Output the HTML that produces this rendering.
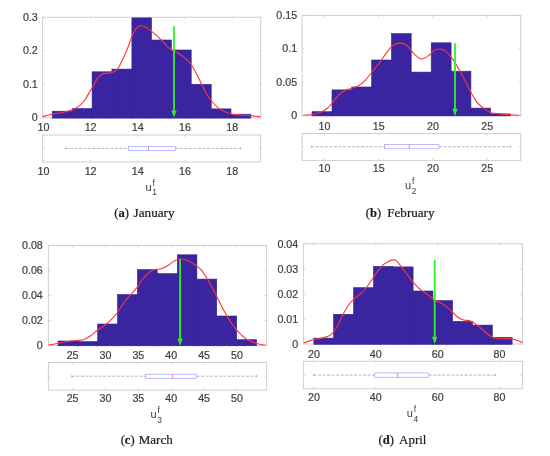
<!DOCTYPE html>
<html><head><meta charset="utf-8"><title>Histograms</title>
<style>
html,body{margin:0;padding:0;background:#fff;}
body{width:550px;height:456px;overflow:hidden;}
svg{display:block;}
.tk{font-family:"Liberation Sans",Arial,sans-serif;font-size:10.2px;fill:#3c3c3c;stroke:#4a4a4a;stroke-width:0.22px;}
.xl{font-family:"Liberation Sans",Arial,sans-serif;font-size:11px;fill:#3c3c3c;}
.xs{font-family:"Liberation Sans",Arial,sans-serif;font-size:8.5px;fill:#3c3c3c;}
.xs2{font-family:"Liberation Sans",Arial,sans-serif;font-size:8.4px;fill:#3c3c3c;}
.cap{font-family:"Liberation Serif","Times New Roman",serif;font-size:12.5px;fill:#1a1a1a;stroke:#1a1a1a;stroke-width:0.2px;}
</style></head>
<body>
<svg width="550" height="456" viewBox="0 0 550 456">
<rect width="550" height="456" fill="#fff"/>
<rect x="42.60" y="17.30" width="218.10" height="100.50" fill="none" stroke="#cfcfcf" stroke-width="1"/>
<line x1="43.40" y1="17.30" x2="43.40" y2="19.50" stroke="#cfcfcf" stroke-width="0.8"/>
<line x1="43.40" y1="117.80" x2="43.40" y2="115.60" stroke="#cfcfcf" stroke-width="0.8"/>
<line x1="90.60" y1="17.30" x2="90.60" y2="19.50" stroke="#cfcfcf" stroke-width="0.8"/>
<line x1="90.60" y1="117.80" x2="90.60" y2="115.60" stroke="#cfcfcf" stroke-width="0.8"/>
<line x1="137.80" y1="17.30" x2="137.80" y2="19.50" stroke="#cfcfcf" stroke-width="0.8"/>
<line x1="137.80" y1="117.80" x2="137.80" y2="115.60" stroke="#cfcfcf" stroke-width="0.8"/>
<line x1="185.00" y1="17.30" x2="185.00" y2="19.50" stroke="#cfcfcf" stroke-width="0.8"/>
<line x1="185.00" y1="117.80" x2="185.00" y2="115.60" stroke="#cfcfcf" stroke-width="0.8"/>
<line x1="232.20" y1="17.30" x2="232.20" y2="19.50" stroke="#cfcfcf" stroke-width="0.8"/>
<line x1="232.20" y1="117.80" x2="232.20" y2="115.60" stroke="#cfcfcf" stroke-width="0.8"/>
<rect x="52.20" y="111.20" width="20.00" height="6.90" fill="#3a24a0" stroke="#30208a" stroke-width="0.6"/>
<rect x="72.20" y="108.60" width="19.90" height="9.50" fill="#3a24a0" stroke="#30208a" stroke-width="0.6"/>
<rect x="92.10" y="71.80" width="19.80" height="46.30" fill="#3a24a0" stroke="#30208a" stroke-width="0.6"/>
<rect x="111.90" y="69.10" width="20.00" height="49.00" fill="#3a24a0" stroke="#30208a" stroke-width="0.6"/>
<rect x="131.90" y="17.90" width="19.60" height="100.20" fill="#3a24a0" stroke="#30208a" stroke-width="0.6"/>
<rect x="151.50" y="40.00" width="19.90" height="78.10" fill="#3a24a0" stroke="#30208a" stroke-width="0.6"/>
<rect x="171.40" y="50.00" width="19.80" height="68.10" fill="#3a24a0" stroke="#30208a" stroke-width="0.6"/>
<rect x="191.20" y="84.30" width="20.00" height="33.80" fill="#3a24a0" stroke="#30208a" stroke-width="0.6"/>
<rect x="211.20" y="108.90" width="19.80" height="9.20" fill="#3a24a0" stroke="#30208a" stroke-width="0.6"/>
<rect x="231.00" y="114.20" width="19.80" height="3.90" fill="#3a24a0" stroke="#30208a" stroke-width="0.6"/>
<path d="M42.60,116.60 C44.17,116.20 48.60,114.92 52.00,114.20 C55.40,113.48 59.62,113.03 63.00,112.30 C66.38,111.57 69.55,110.92 72.30,109.80 C75.05,108.68 77.42,107.23 79.50,105.60 C81.58,103.97 82.67,103.07 84.80,100.00 C86.93,96.93 90.18,90.80 92.30,87.20 C94.42,83.60 95.90,80.57 97.50,78.40 C99.10,76.23 100.43,75.07 101.90,74.20 C103.37,73.33 104.68,73.45 106.30,73.20 C107.92,72.95 109.85,73.30 111.60,72.70 C113.35,72.10 115.55,70.63 116.80,69.60 C118.05,68.57 117.93,68.60 119.10,66.50 C120.27,64.40 122.42,59.95 123.80,57.00 C125.18,54.05 126.22,51.75 127.40,48.80 C128.58,45.85 129.72,42.27 130.90,39.30 C132.08,36.33 133.32,33.07 134.50,31.00 C135.68,28.93 136.82,27.78 138.00,26.90 C139.18,26.02 140.22,25.60 141.60,25.70 C142.98,25.80 144.57,26.52 146.30,27.50 C148.03,28.48 150.30,30.28 152.00,31.60 C153.70,32.92 154.77,33.80 156.50,35.40 C158.23,37.00 160.45,39.20 162.40,41.20 C164.35,43.20 166.27,45.73 168.20,47.40 C170.13,49.07 172.07,50.05 174.00,51.20 C175.93,52.35 177.87,53.07 179.80,54.30 C181.73,55.53 183.70,56.90 185.60,58.60 C187.50,60.30 189.15,61.50 191.20,64.50 C193.25,67.50 195.57,72.10 197.90,76.60 C200.23,81.10 202.98,87.52 205.20,91.50 C207.42,95.48 208.80,97.60 211.20,100.50 C213.60,103.40 216.30,106.65 219.60,108.90 C222.90,111.15 227.37,112.98 231.00,114.00 C234.63,115.02 238.10,114.73 241.40,115.00 C244.70,115.27 247.58,115.28 250.80,115.60 C254.02,115.92 259.05,116.68 260.70,116.90" fill="none" stroke="#ff3535" stroke-width="1.1" stroke-linejoin="round"/>
<line x1="174.00" y1="26.20" x2="174.00" y2="112.00" stroke="#2ef02e" stroke-width="1.8"/>
<path d="M171.40,110.50 L176.60,110.50 L174.00,117.70 Z" fill="#2ef02e"/>
<line x1="42.60" y1="117.80" x2="44.80" y2="117.80" stroke="#cfcfcf" stroke-width="0.8"/>
<line x1="260.70" y1="117.80" x2="258.50" y2="117.80" stroke="#cfcfcf" stroke-width="0.8"/>
<text transform="translate(37.80,121.40) scale(1.050,1)" text-anchor="end" class="tk">0</text>
<line x1="42.60" y1="84.34" x2="44.80" y2="84.34" stroke="#cfcfcf" stroke-width="0.8"/>
<line x1="260.70" y1="84.34" x2="258.50" y2="84.34" stroke="#cfcfcf" stroke-width="0.8"/>
<text transform="translate(37.80,87.94) scale(1.050,1)" text-anchor="end" class="tk">0.1</text>
<line x1="42.60" y1="50.88" x2="44.80" y2="50.88" stroke="#cfcfcf" stroke-width="0.8"/>
<line x1="260.70" y1="50.88" x2="258.50" y2="50.88" stroke="#cfcfcf" stroke-width="0.8"/>
<text transform="translate(37.80,54.48) scale(1.050,1)" text-anchor="end" class="tk">0.2</text>
<line x1="42.60" y1="17.42" x2="44.80" y2="17.42" stroke="#cfcfcf" stroke-width="0.8"/>
<line x1="260.70" y1="17.42" x2="258.50" y2="17.42" stroke="#cfcfcf" stroke-width="0.8"/>
<text transform="translate(37.80,21.02) scale(1.050,1)" text-anchor="end" class="tk">0.3</text>
<text transform="translate(43.40,130.80) scale(1.050,1)" text-anchor="middle" class="tk">10</text>
<text transform="translate(90.60,130.80) scale(1.050,1)" text-anchor="middle" class="tk">12</text>
<text transform="translate(137.80,130.80) scale(1.050,1)" text-anchor="middle" class="tk">14</text>
<text transform="translate(185.00,130.80) scale(1.050,1)" text-anchor="middle" class="tk">16</text>
<text transform="translate(232.20,130.80) scale(1.050,1)" text-anchor="middle" class="tk">18</text>
<rect x="42.60" y="135.00" width="218.10" height="27.00" fill="none" stroke="#cfcfcf" stroke-width="1"/>
<line x1="43.40" y1="135.00" x2="43.40" y2="137.20" stroke="#cfcfcf" stroke-width="0.8"/>
<line x1="43.40" y1="162.00" x2="43.40" y2="159.80" stroke="#cfcfcf" stroke-width="0.8"/>
<text transform="translate(43.40,174.50) scale(1.050,1)" text-anchor="middle" class="tk">10</text>
<line x1="90.60" y1="135.00" x2="90.60" y2="137.20" stroke="#cfcfcf" stroke-width="0.8"/>
<line x1="90.60" y1="162.00" x2="90.60" y2="159.80" stroke="#cfcfcf" stroke-width="0.8"/>
<text transform="translate(90.60,174.50) scale(1.050,1)" text-anchor="middle" class="tk">12</text>
<line x1="137.80" y1="135.00" x2="137.80" y2="137.20" stroke="#cfcfcf" stroke-width="0.8"/>
<line x1="137.80" y1="162.00" x2="137.80" y2="159.80" stroke="#cfcfcf" stroke-width="0.8"/>
<text transform="translate(137.80,174.50) scale(1.050,1)" text-anchor="middle" class="tk">14</text>
<line x1="185.00" y1="135.00" x2="185.00" y2="137.20" stroke="#cfcfcf" stroke-width="0.8"/>
<line x1="185.00" y1="162.00" x2="185.00" y2="159.80" stroke="#cfcfcf" stroke-width="0.8"/>
<text transform="translate(185.00,174.50) scale(1.050,1)" text-anchor="middle" class="tk">16</text>
<line x1="232.20" y1="135.00" x2="232.20" y2="137.20" stroke="#cfcfcf" stroke-width="0.8"/>
<line x1="232.20" y1="162.00" x2="232.20" y2="159.80" stroke="#cfcfcf" stroke-width="0.8"/>
<text transform="translate(232.20,174.50) scale(1.050,1)" text-anchor="middle" class="tk">18</text>
<line x1="42.60" y1="148.40" x2="44.80" y2="148.40" stroke="#cfcfcf" stroke-width="0.8"/>
<line x1="260.70" y1="148.40" x2="258.50" y2="148.40" stroke="#cfcfcf" stroke-width="0.8"/>
<line x1="65.40" y1="148.40" x2="128.40" y2="148.40" stroke="#a4a4a4" stroke-width="0.8" stroke-dasharray="3,1.5"/>
<line x1="175.40" y1="148.40" x2="240.70" y2="148.40" stroke="#a4a4a4" stroke-width="0.8" stroke-dasharray="3,1.5"/>
<line x1="65.40" y1="147.40" x2="65.40" y2="149.40" stroke="#8a8a8a" stroke-width="0.7"/>
<line x1="240.70" y1="147.40" x2="240.70" y2="149.40" stroke="#8a8a8a" stroke-width="0.7"/>
<rect x="128.40" y="146.50" width="47.00" height="3.90" fill="none" stroke="#a9a9fb" stroke-width="0.8"/>
<line x1="148.40" y1="146.50" x2="148.40" y2="150.40" stroke="#f07a7a" stroke-width="0.9"/>
<text x="145.60" y="190.60" class="xl">u</text>
<text x="152.50" y="185.60" class="xs">f</text>
<text x="152.30" y="195.30" class="xs2">1</text>
<text x="114.30" y="216.70" class="cap">(<tspan font-weight="bold">a</tspan>)</text>
<text x="133.60" y="216.70" class="cap" textLength="41.0" lengthAdjust="spacingAndGlyphs">January</text>
<rect x="302.10" y="15.50" width="218.70" height="100.10" fill="none" stroke="#cfcfcf" stroke-width="1"/>
<line x1="324.50" y1="15.50" x2="324.50" y2="17.70" stroke="#cfcfcf" stroke-width="0.8"/>
<line x1="324.50" y1="115.60" x2="324.50" y2="113.40" stroke="#cfcfcf" stroke-width="0.8"/>
<line x1="378.75" y1="15.50" x2="378.75" y2="17.70" stroke="#cfcfcf" stroke-width="0.8"/>
<line x1="378.75" y1="115.60" x2="378.75" y2="113.40" stroke="#cfcfcf" stroke-width="0.8"/>
<line x1="433.00" y1="15.50" x2="433.00" y2="17.70" stroke="#cfcfcf" stroke-width="0.8"/>
<line x1="433.00" y1="115.60" x2="433.00" y2="113.40" stroke="#cfcfcf" stroke-width="0.8"/>
<line x1="487.25" y1="15.50" x2="487.25" y2="17.70" stroke="#cfcfcf" stroke-width="0.8"/>
<line x1="487.25" y1="115.60" x2="487.25" y2="113.40" stroke="#cfcfcf" stroke-width="0.8"/>
<rect x="312.00" y="111.70" width="20.00" height="4.20" fill="#3a24a0" stroke="#30208a" stroke-width="0.6"/>
<rect x="332.00" y="89.90" width="19.70" height="26.00" fill="#3a24a0" stroke="#30208a" stroke-width="0.6"/>
<rect x="351.70" y="87.00" width="20.00" height="28.90" fill="#3a24a0" stroke="#30208a" stroke-width="0.6"/>
<rect x="371.70" y="60.00" width="19.80" height="55.90" fill="#3a24a0" stroke="#30208a" stroke-width="0.6"/>
<rect x="391.50" y="33.60" width="19.70" height="82.30" fill="#3a24a0" stroke="#30208a" stroke-width="0.6"/>
<rect x="411.20" y="72.10" width="20.00" height="43.80" fill="#3a24a0" stroke="#30208a" stroke-width="0.6"/>
<rect x="431.20" y="42.80" width="19.90" height="73.10" fill="#3a24a0" stroke="#30208a" stroke-width="0.6"/>
<rect x="451.10" y="71.20" width="19.80" height="44.70" fill="#3a24a0" stroke="#30208a" stroke-width="0.6"/>
<rect x="470.90" y="108.10" width="19.60" height="7.80" fill="#3a24a0" stroke="#30208a" stroke-width="0.6"/>
<rect x="490.50" y="113.90" width="19.70" height="2.00" fill="#3a24a0" stroke="#30208a" stroke-width="0.6"/>
<path d="M302.10,115.50 C303.73,115.33 308.95,114.98 311.90,114.50 C314.85,114.02 317.17,113.68 319.80,112.60 C322.43,111.52 325.40,109.92 327.70,108.00 C330.00,106.08 331.63,103.40 333.60,101.10 C335.57,98.80 337.53,96.02 339.50,94.20 C341.47,92.38 343.35,91.18 345.40,90.20 C347.45,89.22 349.48,89.12 351.80,88.30 C354.12,87.48 357.07,86.62 359.30,85.30 C361.53,83.98 363.17,82.53 365.20,80.40 C367.23,78.27 369.03,75.57 371.50,72.50 C373.97,69.43 377.54,65.23 380.00,62.00 C382.46,58.77 384.17,55.80 386.25,53.10 C388.33,50.40 390.18,47.50 392.50,45.80 C394.82,44.10 397.77,42.90 400.20,42.90 C402.63,42.90 404.73,43.92 407.10,45.80 C409.47,47.68 411.97,52.00 414.40,54.20 C416.83,56.40 419.27,58.83 421.70,59.00 C424.13,59.17 426.92,56.63 429.00,55.20 C431.08,53.77 432.30,51.43 434.20,50.40 C436.10,49.37 438.32,48.72 440.40,49.00 C442.48,49.28 444.62,50.37 446.70,52.10 C448.78,53.83 450.82,56.45 452.90,59.40 C454.98,62.35 457.12,66.16 459.20,69.80 C461.28,73.44 463.32,77.26 465.40,81.25 C467.48,85.24 469.78,90.28 471.70,93.75 C473.62,97.22 475.18,99.89 476.90,102.10 C478.62,104.31 479.73,105.28 482.00,107.00 C484.27,108.72 487.50,111.25 490.50,112.40 C493.50,113.55 496.92,113.53 500.00,113.90 C503.08,114.27 505.53,114.32 509.00,114.60 C512.47,114.88 518.83,115.43 520.80,115.60" fill="none" stroke="#ff3535" stroke-width="1.1" stroke-linejoin="round"/>
<line x1="455.00" y1="43.20" x2="455.00" y2="110.30" stroke="#2ef02e" stroke-width="1.8"/>
<path d="M452.40,108.80 L457.60,108.80 L455.00,116.00 Z" fill="#2ef02e"/>
<line x1="302.10" y1="115.60" x2="304.30" y2="115.60" stroke="#cfcfcf" stroke-width="0.8"/>
<line x1="520.80" y1="115.60" x2="518.60" y2="115.60" stroke="#cfcfcf" stroke-width="0.8"/>
<text transform="translate(297.10,119.20) scale(1.050,1)" text-anchor="end" class="tk">0</text>
<line x1="302.10" y1="82.20" x2="304.30" y2="82.20" stroke="#cfcfcf" stroke-width="0.8"/>
<line x1="520.80" y1="82.20" x2="518.60" y2="82.20" stroke="#cfcfcf" stroke-width="0.8"/>
<text transform="translate(297.10,85.80) scale(1.050,1)" text-anchor="end" class="tk">0.05</text>
<line x1="302.10" y1="48.80" x2="304.30" y2="48.80" stroke="#cfcfcf" stroke-width="0.8"/>
<line x1="520.80" y1="48.80" x2="518.60" y2="48.80" stroke="#cfcfcf" stroke-width="0.8"/>
<text transform="translate(297.10,52.40) scale(1.050,1)" text-anchor="end" class="tk">0.1</text>
<line x1="302.10" y1="15.40" x2="304.30" y2="15.40" stroke="#cfcfcf" stroke-width="0.8"/>
<line x1="520.80" y1="15.40" x2="518.60" y2="15.40" stroke="#cfcfcf" stroke-width="0.8"/>
<text transform="translate(297.10,19.00) scale(1.050,1)" text-anchor="end" class="tk">0.15</text>
<text transform="translate(324.50,129.90) scale(1.050,1)" text-anchor="middle" class="tk">10</text>
<text transform="translate(378.75,129.90) scale(1.050,1)" text-anchor="middle" class="tk">15</text>
<text transform="translate(433.00,129.90) scale(1.050,1)" text-anchor="middle" class="tk">20</text>
<text transform="translate(487.25,129.90) scale(1.050,1)" text-anchor="middle" class="tk">25</text>
<rect x="302.10" y="133.50" width="218.70" height="26.90" fill="none" stroke="#cfcfcf" stroke-width="1"/>
<line x1="324.50" y1="133.50" x2="324.50" y2="135.70" stroke="#cfcfcf" stroke-width="0.8"/>
<line x1="324.50" y1="160.40" x2="324.50" y2="158.20" stroke="#cfcfcf" stroke-width="0.8"/>
<text transform="translate(324.50,172.40) scale(1.050,1)" text-anchor="middle" class="tk">10</text>
<line x1="378.75" y1="133.50" x2="378.75" y2="135.70" stroke="#cfcfcf" stroke-width="0.8"/>
<line x1="378.75" y1="160.40" x2="378.75" y2="158.20" stroke="#cfcfcf" stroke-width="0.8"/>
<text transform="translate(378.75,172.40) scale(1.050,1)" text-anchor="middle" class="tk">15</text>
<line x1="433.00" y1="133.50" x2="433.00" y2="135.70" stroke="#cfcfcf" stroke-width="0.8"/>
<line x1="433.00" y1="160.40" x2="433.00" y2="158.20" stroke="#cfcfcf" stroke-width="0.8"/>
<text transform="translate(433.00,172.40) scale(1.050,1)" text-anchor="middle" class="tk">20</text>
<line x1="487.25" y1="133.50" x2="487.25" y2="135.70" stroke="#cfcfcf" stroke-width="0.8"/>
<line x1="487.25" y1="160.40" x2="487.25" y2="158.20" stroke="#cfcfcf" stroke-width="0.8"/>
<text transform="translate(487.25,172.40) scale(1.050,1)" text-anchor="middle" class="tk">25</text>
<line x1="302.10" y1="146.70" x2="304.30" y2="146.70" stroke="#cfcfcf" stroke-width="0.8"/>
<line x1="520.80" y1="146.70" x2="518.60" y2="146.70" stroke="#cfcfcf" stroke-width="0.8"/>
<line x1="311.40" y1="146.70" x2="384.50" y2="146.70" stroke="#a4a4a4" stroke-width="0.8" stroke-dasharray="3,1.5"/>
<line x1="439.00" y1="146.70" x2="510.60" y2="146.70" stroke="#a4a4a4" stroke-width="0.8" stroke-dasharray="3,1.5"/>
<line x1="311.40" y1="145.70" x2="311.40" y2="147.70" stroke="#8a8a8a" stroke-width="0.7"/>
<line x1="510.60" y1="145.70" x2="510.60" y2="147.70" stroke="#8a8a8a" stroke-width="0.7"/>
<rect x="384.50" y="144.60" width="54.50" height="4.20" fill="none" stroke="#a9a9fb" stroke-width="0.8"/>
<line x1="409.30" y1="144.60" x2="409.30" y2="148.80" stroke="#f07a7a" stroke-width="0.9"/>
<text x="405.00" y="188.50" class="xl">u</text>
<text x="411.90" y="183.50" class="xs">f</text>
<text x="411.70" y="194.10" class="xs2">2</text>
<text x="365.80" y="216.50" class="cap">(<tspan font-weight="bold">b</tspan>)</text>
<text x="387.30" y="216.50" class="cap" textLength="47.2" lengthAdjust="spacingAndGlyphs">February</text>
<rect x="48.40" y="245.50" width="218.20" height="100.00" fill="none" stroke="#cfcfcf" stroke-width="1"/>
<line x1="72.60" y1="245.50" x2="72.60" y2="247.70" stroke="#cfcfcf" stroke-width="0.8"/>
<line x1="72.60" y1="345.50" x2="72.60" y2="343.30" stroke="#cfcfcf" stroke-width="0.8"/>
<line x1="105.47" y1="245.50" x2="105.47" y2="247.70" stroke="#cfcfcf" stroke-width="0.8"/>
<line x1="105.47" y1="345.50" x2="105.47" y2="343.30" stroke="#cfcfcf" stroke-width="0.8"/>
<line x1="138.35" y1="245.50" x2="138.35" y2="247.70" stroke="#cfcfcf" stroke-width="0.8"/>
<line x1="138.35" y1="345.50" x2="138.35" y2="343.30" stroke="#cfcfcf" stroke-width="0.8"/>
<line x1="171.22" y1="245.50" x2="171.22" y2="247.70" stroke="#cfcfcf" stroke-width="0.8"/>
<line x1="171.22" y1="345.50" x2="171.22" y2="343.30" stroke="#cfcfcf" stroke-width="0.8"/>
<line x1="204.10" y1="245.50" x2="204.10" y2="247.70" stroke="#cfcfcf" stroke-width="0.8"/>
<line x1="204.10" y1="345.50" x2="204.10" y2="343.30" stroke="#cfcfcf" stroke-width="0.8"/>
<line x1="236.97" y1="245.50" x2="236.97" y2="247.70" stroke="#cfcfcf" stroke-width="0.8"/>
<line x1="236.97" y1="345.50" x2="236.97" y2="343.30" stroke="#cfcfcf" stroke-width="0.8"/>
<rect x="58.10" y="341.00" width="20.00" height="4.80" fill="#3a24a0" stroke="#30208a" stroke-width="0.6"/>
<rect x="78.10" y="341.60" width="19.60" height="4.20" fill="#3a24a0" stroke="#30208a" stroke-width="0.6"/>
<rect x="97.70" y="324.00" width="19.80" height="21.80" fill="#3a24a0" stroke="#30208a" stroke-width="0.6"/>
<rect x="117.50" y="294.60" width="19.90" height="51.20" fill="#3a24a0" stroke="#30208a" stroke-width="0.6"/>
<rect x="137.40" y="269.60" width="19.80" height="76.20" fill="#3a24a0" stroke="#30208a" stroke-width="0.6"/>
<rect x="157.20" y="273.60" width="20.10" height="72.20" fill="#3a24a0" stroke="#30208a" stroke-width="0.6"/>
<rect x="177.30" y="254.80" width="19.60" height="91.00" fill="#3a24a0" stroke="#30208a" stroke-width="0.6"/>
<rect x="196.90" y="279.10" width="19.80" height="66.70" fill="#3a24a0" stroke="#30208a" stroke-width="0.6"/>
<rect x="216.70" y="316.00" width="20.00" height="29.80" fill="#3a24a0" stroke="#30208a" stroke-width="0.6"/>
<rect x="236.70" y="339.70" width="19.90" height="6.10" fill="#3a24a0" stroke="#30208a" stroke-width="0.6"/>
<path d="M48.40,345.30 C50.03,344.95 54.75,343.88 58.20,343.20 C61.65,342.52 65.82,341.65 69.10,341.20 C72.38,340.75 75.33,340.83 77.90,340.50 C80.47,340.17 82.30,340.03 84.50,339.20 C86.70,338.37 88.92,337.03 91.10,335.50 C93.28,333.97 95.42,331.63 97.60,330.00 C99.78,328.37 102.00,327.33 104.20,325.70 C106.40,324.07 108.60,322.40 110.80,320.20 C113.00,318.00 115.20,315.43 117.40,312.50 C119.60,309.57 121.82,305.52 124.00,302.60 C126.18,299.68 128.32,297.55 130.50,295.00 C132.68,292.45 135.18,289.80 137.10,287.30 C139.02,284.80 140.42,282.12 142.00,280.00 C143.58,277.88 144.73,276.27 146.60,274.60 C148.47,272.93 150.83,270.97 153.20,270.00 C155.57,269.03 158.25,269.60 160.80,268.80 C163.35,268.00 166.12,266.60 168.50,265.20 C170.88,263.80 172.90,261.43 175.10,260.40 C177.30,259.37 179.52,258.93 181.70,259.00 C183.88,259.07 186.02,259.85 188.20,260.80 C190.38,261.75 192.60,263.13 194.80,264.70 C197.00,266.27 199.20,267.63 201.40,270.20 C203.60,272.77 205.80,276.45 208.00,280.10 C210.20,283.75 212.42,287.90 214.60,292.10 C216.78,296.30 218.92,301.08 221.10,305.30 C223.28,309.52 225.50,313.75 227.70,317.40 C229.90,321.05 232.25,324.50 234.30,327.20 C236.35,329.90 238.13,331.73 240.00,333.60 C241.87,335.47 243.92,337.22 245.50,338.40 C247.08,339.58 247.75,339.90 249.50,340.70 C251.25,341.50 253.82,342.52 256.00,343.20 C258.18,343.88 260.83,344.43 262.60,344.80 C264.37,345.17 265.93,345.30 266.60,345.40" fill="none" stroke="#ff3535" stroke-width="1.1" stroke-linejoin="round"/>
<line x1="180.10" y1="259.20" x2="180.10" y2="340.00" stroke="#2ef02e" stroke-width="1.8"/>
<path d="M177.50,338.50 L182.70,338.50 L180.10,345.70 Z" fill="#2ef02e"/>
<line x1="48.40" y1="345.50" x2="50.60" y2="345.50" stroke="#cfcfcf" stroke-width="0.8"/>
<line x1="266.60" y1="345.50" x2="264.40" y2="345.50" stroke="#cfcfcf" stroke-width="0.8"/>
<text transform="translate(42.80,349.10) scale(1.050,1)" text-anchor="end" class="tk">0</text>
<line x1="48.40" y1="320.50" x2="50.60" y2="320.50" stroke="#cfcfcf" stroke-width="0.8"/>
<line x1="266.60" y1="320.50" x2="264.40" y2="320.50" stroke="#cfcfcf" stroke-width="0.8"/>
<text transform="translate(42.80,324.10) scale(1.050,1)" text-anchor="end" class="tk">0.02</text>
<line x1="48.40" y1="295.50" x2="50.60" y2="295.50" stroke="#cfcfcf" stroke-width="0.8"/>
<line x1="266.60" y1="295.50" x2="264.40" y2="295.50" stroke="#cfcfcf" stroke-width="0.8"/>
<text transform="translate(42.80,299.10) scale(1.050,1)" text-anchor="end" class="tk">0.04</text>
<line x1="48.40" y1="270.50" x2="50.60" y2="270.50" stroke="#cfcfcf" stroke-width="0.8"/>
<line x1="266.60" y1="270.50" x2="264.40" y2="270.50" stroke="#cfcfcf" stroke-width="0.8"/>
<text transform="translate(42.80,274.10) scale(1.050,1)" text-anchor="end" class="tk">0.06</text>
<line x1="48.40" y1="245.50" x2="50.60" y2="245.50" stroke="#cfcfcf" stroke-width="0.8"/>
<line x1="266.60" y1="245.50" x2="264.40" y2="245.50" stroke="#cfcfcf" stroke-width="0.8"/>
<text transform="translate(42.80,249.10) scale(1.050,1)" text-anchor="end" class="tk">0.08</text>
<text transform="translate(72.60,359.10) scale(1.050,1)" text-anchor="middle" class="tk">25</text>
<text transform="translate(105.47,359.10) scale(1.050,1)" text-anchor="middle" class="tk">30</text>
<text transform="translate(138.35,359.10) scale(1.050,1)" text-anchor="middle" class="tk">35</text>
<text transform="translate(171.22,359.10) scale(1.050,1)" text-anchor="middle" class="tk">40</text>
<text transform="translate(204.10,359.10) scale(1.050,1)" text-anchor="middle" class="tk">45</text>
<text transform="translate(236.97,359.10) scale(1.050,1)" text-anchor="middle" class="tk">50</text>
<rect x="48.40" y="362.50" width="218.20" height="27.70" fill="none" stroke="#cfcfcf" stroke-width="1"/>
<line x1="72.60" y1="362.50" x2="72.60" y2="364.70" stroke="#cfcfcf" stroke-width="0.8"/>
<line x1="72.60" y1="390.20" x2="72.60" y2="388.00" stroke="#cfcfcf" stroke-width="0.8"/>
<text transform="translate(72.60,402.10) scale(1.050,1)" text-anchor="middle" class="tk">25</text>
<line x1="105.47" y1="362.50" x2="105.47" y2="364.70" stroke="#cfcfcf" stroke-width="0.8"/>
<line x1="105.47" y1="390.20" x2="105.47" y2="388.00" stroke="#cfcfcf" stroke-width="0.8"/>
<text transform="translate(105.47,402.10) scale(1.050,1)" text-anchor="middle" class="tk">30</text>
<line x1="138.35" y1="362.50" x2="138.35" y2="364.70" stroke="#cfcfcf" stroke-width="0.8"/>
<line x1="138.35" y1="390.20" x2="138.35" y2="388.00" stroke="#cfcfcf" stroke-width="0.8"/>
<text transform="translate(138.35,402.10) scale(1.050,1)" text-anchor="middle" class="tk">35</text>
<line x1="171.22" y1="362.50" x2="171.22" y2="364.70" stroke="#cfcfcf" stroke-width="0.8"/>
<line x1="171.22" y1="390.20" x2="171.22" y2="388.00" stroke="#cfcfcf" stroke-width="0.8"/>
<text transform="translate(171.22,402.10) scale(1.050,1)" text-anchor="middle" class="tk">40</text>
<line x1="204.10" y1="362.50" x2="204.10" y2="364.70" stroke="#cfcfcf" stroke-width="0.8"/>
<line x1="204.10" y1="390.20" x2="204.10" y2="388.00" stroke="#cfcfcf" stroke-width="0.8"/>
<text transform="translate(204.10,402.10) scale(1.050,1)" text-anchor="middle" class="tk">45</text>
<line x1="236.97" y1="362.50" x2="236.97" y2="364.70" stroke="#cfcfcf" stroke-width="0.8"/>
<line x1="236.97" y1="390.20" x2="236.97" y2="388.00" stroke="#cfcfcf" stroke-width="0.8"/>
<text transform="translate(236.97,402.10) scale(1.050,1)" text-anchor="middle" class="tk">50</text>
<line x1="48.40" y1="376.20" x2="50.60" y2="376.20" stroke="#cfcfcf" stroke-width="0.8"/>
<line x1="266.60" y1="376.20" x2="264.40" y2="376.20" stroke="#cfcfcf" stroke-width="0.8"/>
<line x1="71.80" y1="376.20" x2="145.50" y2="376.20" stroke="#a4a4a4" stroke-width="0.8" stroke-dasharray="3,1.5"/>
<line x1="196.50" y1="376.20" x2="256.60" y2="376.20" stroke="#a4a4a4" stroke-width="0.8" stroke-dasharray="3,1.5"/>
<line x1="71.80" y1="375.20" x2="71.80" y2="377.20" stroke="#8a8a8a" stroke-width="0.7"/>
<line x1="256.60" y1="375.20" x2="256.60" y2="377.20" stroke="#8a8a8a" stroke-width="0.7"/>
<rect x="145.50" y="374.20" width="51.00" height="4.10" fill="none" stroke="#a9a9fb" stroke-width="0.8"/>
<line x1="172.60" y1="374.20" x2="172.60" y2="378.30" stroke="#f07a7a" stroke-width="0.9"/>
<text x="150.60" y="418.00" class="xl">u</text>
<text x="157.50" y="413.00" class="xs">f</text>
<text x="157.30" y="422.70" class="xs2">3</text>
<text x="120.70" y="443.50" class="cap">(<tspan font-weight="bold">c</tspan>)</text>
<text x="138.70" y="443.50" class="cap" textLength="34.0" lengthAdjust="spacingAndGlyphs">March</text>
<rect x="303.60" y="243.70" width="218.80" height="100.30" fill="none" stroke="#cfcfcf" stroke-width="1"/>
<line x1="313.90" y1="243.70" x2="313.90" y2="245.90" stroke="#cfcfcf" stroke-width="0.8"/>
<line x1="313.90" y1="344.00" x2="313.90" y2="341.80" stroke="#cfcfcf" stroke-width="0.8"/>
<line x1="375.78" y1="243.70" x2="375.78" y2="245.90" stroke="#cfcfcf" stroke-width="0.8"/>
<line x1="375.78" y1="344.00" x2="375.78" y2="341.80" stroke="#cfcfcf" stroke-width="0.8"/>
<line x1="437.66" y1="243.70" x2="437.66" y2="245.90" stroke="#cfcfcf" stroke-width="0.8"/>
<line x1="437.66" y1="344.00" x2="437.66" y2="341.80" stroke="#cfcfcf" stroke-width="0.8"/>
<line x1="499.54" y1="243.70" x2="499.54" y2="245.90" stroke="#cfcfcf" stroke-width="0.8"/>
<line x1="499.54" y1="344.00" x2="499.54" y2="341.80" stroke="#cfcfcf" stroke-width="0.8"/>
<rect x="313.90" y="338.10" width="19.70" height="6.20" fill="#3a24a0" stroke="#30208a" stroke-width="0.6"/>
<rect x="333.60" y="314.30" width="20.00" height="30.00" fill="#3a24a0" stroke="#30208a" stroke-width="0.6"/>
<rect x="353.60" y="287.70" width="19.90" height="56.60" fill="#3a24a0" stroke="#30208a" stroke-width="0.6"/>
<rect x="373.50" y="266.40" width="19.90" height="77.90" fill="#3a24a0" stroke="#30208a" stroke-width="0.6"/>
<rect x="393.40" y="266.90" width="19.70" height="77.40" fill="#3a24a0" stroke="#30208a" stroke-width="0.6"/>
<rect x="413.10" y="291.00" width="19.80" height="53.30" fill="#3a24a0" stroke="#30208a" stroke-width="0.6"/>
<rect x="432.90" y="300.60" width="19.70" height="43.70" fill="#3a24a0" stroke="#30208a" stroke-width="0.6"/>
<rect x="452.60" y="321.40" width="19.90" height="22.90" fill="#3a24a0" stroke="#30208a" stroke-width="0.6"/>
<rect x="472.50" y="325.10" width="19.90" height="19.20" fill="#3a24a0" stroke="#30208a" stroke-width="0.6"/>
<rect x="492.40" y="337.40" width="19.70" height="6.90" fill="#3a24a0" stroke="#30208a" stroke-width="0.6"/>
<path d="M303.60,343.00 C304.83,342.57 308.68,341.08 311.00,340.40 C313.32,339.72 315.32,339.38 317.50,338.90 C319.68,338.42 321.90,338.17 324.10,337.50 C326.30,336.83 328.68,336.43 330.70,334.90 C332.72,333.37 334.55,330.85 336.20,328.30 C337.85,325.75 339.13,322.52 340.60,319.60 C342.07,316.68 343.37,313.65 345.00,310.80 C346.63,307.95 348.40,304.88 350.40,302.50 C352.40,300.12 354.80,298.42 357.00,296.50 C359.20,294.58 361.40,293.37 363.60,291.00 C365.80,288.63 368.00,285.40 370.20,282.30 C372.40,279.20 374.62,275.33 376.80,272.40 C378.98,269.47 381.12,266.67 383.30,264.70 C385.48,262.73 388.25,261.40 389.90,260.60 C391.55,259.80 392.10,259.85 393.20,259.90 C394.30,259.95 395.02,259.60 396.50,260.90 C397.98,262.20 399.98,264.98 402.10,267.70 C404.22,270.42 407.23,274.63 409.20,277.20 C411.17,279.77 411.93,280.93 413.90,283.10 C415.87,285.27 418.63,288.23 421.00,290.20 C423.37,292.17 425.82,293.25 428.10,294.90 C430.38,296.55 432.33,298.60 434.70,300.10 C437.07,301.60 439.85,302.40 442.30,303.90 C444.75,305.40 447.03,307.05 449.40,309.10 C451.77,311.15 454.15,314.38 456.50,316.20 C458.85,318.02 461.15,319.22 463.50,320.00 C465.85,320.78 468.23,319.97 470.60,320.90 C472.97,321.83 475.33,323.83 477.70,325.60 C480.07,327.37 482.43,329.60 484.80,331.50 C487.17,333.40 489.53,335.77 491.90,337.00 C494.27,338.23 496.63,338.63 499.00,338.90 C501.37,339.17 503.73,338.53 506.10,338.60 C508.47,338.67 510.48,338.67 513.20,339.30 C515.92,339.93 520.87,341.88 522.40,342.40" fill="none" stroke="#ff3535" stroke-width="1.1" stroke-linejoin="round"/>
<line x1="434.70" y1="259.70" x2="434.70" y2="338.20" stroke="#2ef02e" stroke-width="1.8"/>
<path d="M432.10,336.70 L437.30,336.70 L434.70,343.90 Z" fill="#2ef02e"/>
<line x1="303.60" y1="344.00" x2="305.80" y2="344.00" stroke="#cfcfcf" stroke-width="0.8"/>
<line x1="522.40" y1="344.00" x2="520.20" y2="344.00" stroke="#cfcfcf" stroke-width="0.8"/>
<text transform="translate(298.20,347.60) scale(1.050,1)" text-anchor="end" class="tk">0</text>
<line x1="303.60" y1="318.98" x2="305.80" y2="318.98" stroke="#cfcfcf" stroke-width="0.8"/>
<line x1="522.40" y1="318.98" x2="520.20" y2="318.98" stroke="#cfcfcf" stroke-width="0.8"/>
<text transform="translate(298.20,322.58) scale(1.050,1)" text-anchor="end" class="tk">0.01</text>
<line x1="303.60" y1="293.95" x2="305.80" y2="293.95" stroke="#cfcfcf" stroke-width="0.8"/>
<line x1="522.40" y1="293.95" x2="520.20" y2="293.95" stroke="#cfcfcf" stroke-width="0.8"/>
<text transform="translate(298.20,297.55) scale(1.050,1)" text-anchor="end" class="tk">0.02</text>
<line x1="303.60" y1="268.93" x2="305.80" y2="268.93" stroke="#cfcfcf" stroke-width="0.8"/>
<line x1="522.40" y1="268.93" x2="520.20" y2="268.93" stroke="#cfcfcf" stroke-width="0.8"/>
<text transform="translate(298.20,272.53) scale(1.050,1)" text-anchor="end" class="tk">0.03</text>
<line x1="303.60" y1="243.90" x2="305.80" y2="243.90" stroke="#cfcfcf" stroke-width="0.8"/>
<line x1="522.40" y1="243.90" x2="520.20" y2="243.90" stroke="#cfcfcf" stroke-width="0.8"/>
<text transform="translate(298.20,247.50) scale(1.050,1)" text-anchor="end" class="tk">0.04</text>
<text transform="translate(313.90,358.10) scale(1.050,1)" text-anchor="middle" class="tk">20</text>
<text transform="translate(375.78,358.10) scale(1.050,1)" text-anchor="middle" class="tk">40</text>
<text transform="translate(437.66,358.10) scale(1.050,1)" text-anchor="middle" class="tk">60</text>
<text transform="translate(499.54,358.10) scale(1.050,1)" text-anchor="middle" class="tk">80</text>
<rect x="303.60" y="361.30" width="218.80" height="27.40" fill="none" stroke="#cfcfcf" stroke-width="1"/>
<line x1="313.90" y1="361.30" x2="313.90" y2="363.50" stroke="#cfcfcf" stroke-width="0.8"/>
<line x1="313.90" y1="388.70" x2="313.90" y2="386.50" stroke="#cfcfcf" stroke-width="0.8"/>
<text transform="translate(313.90,400.90) scale(1.050,1)" text-anchor="middle" class="tk">20</text>
<line x1="375.78" y1="361.30" x2="375.78" y2="363.50" stroke="#cfcfcf" stroke-width="0.8"/>
<line x1="375.78" y1="388.70" x2="375.78" y2="386.50" stroke="#cfcfcf" stroke-width="0.8"/>
<text transform="translate(375.78,400.90) scale(1.050,1)" text-anchor="middle" class="tk">40</text>
<line x1="437.66" y1="361.30" x2="437.66" y2="363.50" stroke="#cfcfcf" stroke-width="0.8"/>
<line x1="437.66" y1="388.70" x2="437.66" y2="386.50" stroke="#cfcfcf" stroke-width="0.8"/>
<text transform="translate(437.66,400.90) scale(1.050,1)" text-anchor="middle" class="tk">60</text>
<line x1="499.54" y1="361.30" x2="499.54" y2="363.50" stroke="#cfcfcf" stroke-width="0.8"/>
<line x1="499.54" y1="388.70" x2="499.54" y2="386.50" stroke="#cfcfcf" stroke-width="0.8"/>
<text transform="translate(499.54,400.90) scale(1.050,1)" text-anchor="middle" class="tk">80</text>
<line x1="303.60" y1="375.10" x2="305.80" y2="375.10" stroke="#cfcfcf" stroke-width="0.8"/>
<line x1="522.40" y1="375.10" x2="520.20" y2="375.10" stroke="#cfcfcf" stroke-width="0.8"/>
<line x1="313.60" y1="375.10" x2="374.60" y2="375.10" stroke="#a4a4a4" stroke-width="0.8" stroke-dasharray="3,1.5"/>
<line x1="428.70" y1="375.10" x2="495.60" y2="375.10" stroke="#a4a4a4" stroke-width="0.8" stroke-dasharray="3,1.5"/>
<line x1="313.60" y1="374.10" x2="313.60" y2="376.10" stroke="#8a8a8a" stroke-width="0.7"/>
<line x1="495.60" y1="374.10" x2="495.60" y2="376.10" stroke="#8a8a8a" stroke-width="0.7"/>
<rect x="374.60" y="372.90" width="54.10" height="4.40" fill="none" stroke="#a9a9fb" stroke-width="0.8"/>
<line x1="397.70" y1="372.90" x2="397.70" y2="377.30" stroke="#f07a7a" stroke-width="0.9"/>
<text x="406.80" y="417.20" class="xl">u</text>
<text x="413.70" y="412.20" class="xs">f</text>
<text x="413.50" y="421.90" class="xs2">4</text>
<text x="378.50" y="443.50" class="cap">(<tspan font-weight="bold">d</tspan>)</text>
<text x="399.10" y="443.50" class="cap" textLength="27.3" lengthAdjust="spacingAndGlyphs">April</text>
</svg>
</body></html>
